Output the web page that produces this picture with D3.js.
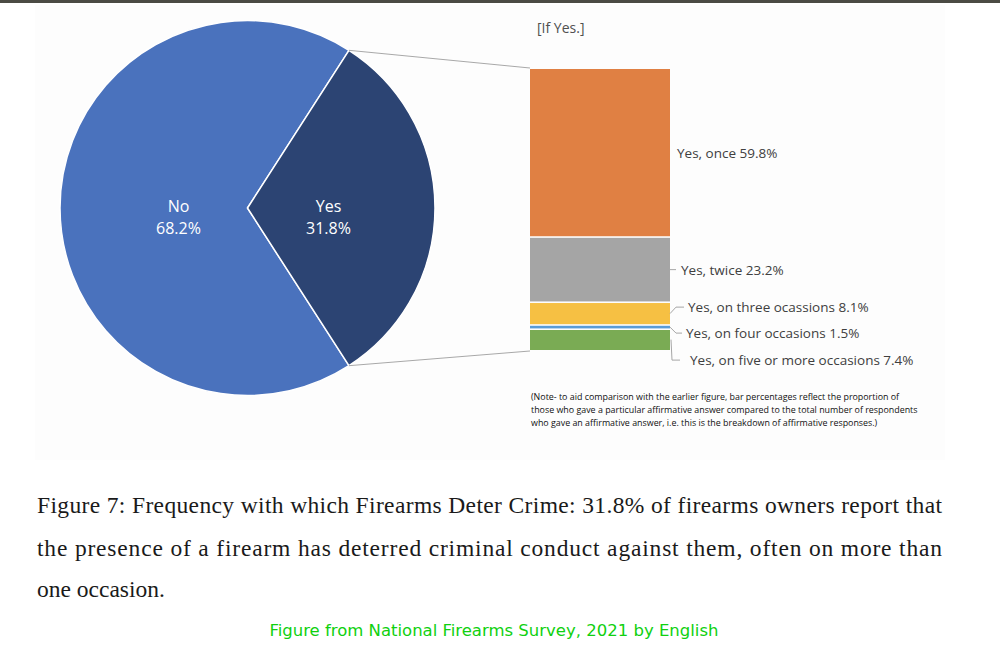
<!DOCTYPE html>
<html>
<head>
<meta charset="utf-8">
<script src="https://cdn.jsdelivr.net/npm/d3@7"></script>
<style>
  body { margin: 0; background: #fff; }
  svg { display: block; }
</style>
</head>
<body>
<svg id="mysvg" width="1000" height="650"></svg>
<script>
// pie data
var pieLabels = ["No", "Yes"];
var pieValues = [68.2, 31.8];

// breakdown of the "Yes" answers
var barLabels = ["Yes, once", "Yes, twice", "Yes, on three ocassions", "Yes, on four occasions", "Yes, on five or more occasions"];
var barValues = [59.8, 23.2, 8.1, 1.5, 7.4];

var noteLines = [
  "(Note- to aid comparison with the earlier figure, bar percentages reflect the proportion of",
  "those who gave a particular affirmative answer compared to the total number of respondents",
  "who gave an affirmative answer, i.e. this is the breakdown of affirmative responses.)"
];

var captionLines = [
  "Figure 7: Frequency with which Firearms Deter Crime: 31.8% of firearms owners report that",
  "the presence of a firearm has deterred criminal conduct against them, often on more than",
  "one occasion."
];
var sourceText = "Figure from National Firearms Survey, 2021 by English";

var svg = d3.select("#mysvg");

// dark strip on top of the page
svg.append("rect").attr("x", 0).attr("y", 0).attr("width", 1000).attr("height", 3).attr("fill", "#4b4b44");
svg.append("rect").attr("x", 35).attr("y", 5).attr("width", 910).attr("height", 455).attr("fill", "#fdfdfd");

// ---- pie ----
var cx = 247.5, cy = 208, r = 187.5;
var pieColors = ["#4a72bd", "#2c4473"];
var total = d3.sum(pieValues);
var yesFrac = pieValues[1] / total;
// Yes slice centred on the right-hand side
var start = Math.PI / 2 + yesFrac * Math.PI;

var pie = d3.pie().sort(null).startAngle(start).endAngle(start + 2 * Math.PI);
var arcs = pie(pieValues);
var arc = d3.arc().innerRadius(0).outerRadius(r);

var gp = svg.append("g").attr("transform", "translate(" + cx + "," + cy + ")");
gp.selectAll("path")
  .data(arcs)
  .enter().append("path")
    .attr("d", arc)
    .attr("fill", function(d, i) { return pieColors[i]; })
    .attr("stroke", "#fff")
    .attr("stroke-width", 1.5)
    .attr("stroke-linejoin", "round");

var lbl = gp.selectAll(".plabel")
  .data(arcs)
  .enter().append("text")
    .attr("class", "plabel")
    .attr("text-anchor", "middle")
    .attr("font-family", "Open Sans, sans-serif")
    .attr("font-size", "16px")
    .attr("fill", "#fff")
    .attr("transform", function(d) {
      var a = (d.startAngle + d.endAngle) / 2;
      var x = Math.sin(a) * r * 0.4 + 6;
      var y = -Math.cos(a) * r * 0.4;
      return "translate(" + x + "," + y + ")";
    });
lbl.append("tspan").attr("x", 0).attr("y", 4).text(function(d, i) { return pieLabels[i]; });
lbl.append("tspan").attr("x", 0).attr("y", 26).text(function(d, i) { return pieValues[i].toFixed(1) + "%"; });

// ---- stacked bar ----
var bx0 = 530, bx1 = 670;
var y = d3.scaleLinear().domain([0, d3.sum(barValues)]).range([69, 350]);
var barColors = ["#e08043", "#a5a5a5", "#f6c043", "#5b9bd5", "#7aab54"];

var stack = [];
var acc = 0;
barValues.forEach(function(v, i) {
  stack.push({ label: barLabels[i], value: v, y0: acc, y1: acc + v });
  acc += v;
});

// connector lines from the pie to the bar
var yesArc = arcs[1];
var pTop = [cx + Math.sin(yesArc.startAngle) * r, cy - Math.cos(yesArc.startAngle) * r];
var pBot = [cx + Math.sin(yesArc.endAngle) * r, cy - Math.cos(yesArc.endAngle) * r];
svg.append("line").attr("x1", pTop[0]).attr("y1", pTop[1]).attr("x2", bx0).attr("y2", y(0) - 1)
  .attr("stroke", "#a8a8a8").attr("stroke-width", 1);
svg.append("line").attr("x1", pBot[0]).attr("y1", pBot[1]).attr("x2", bx0).attr("y2", y(acc) + 1)
  .attr("stroke", "#a8a8a8").attr("stroke-width", 1);

svg.selectAll(".seg")
  .data(stack)
  .enter().append("rect")
    .attr("class", "seg")
    .attr("x", bx0)
    .attr("width", bx1 - bx0)
    .attr("y", function(d, i) { return y(d.y0) + (i > 0 ? 0.8 : 0); })
    .attr("height", function(d, i) { return y(d.y1) - y(d.y0) - (i > 0 ? 0.8 : 0) - (i < stack.length - 1 ? 0.8 : 0); })
    .attr("fill", function(d, i) { return barColors[i]; });

// label placement: shift from segment middle and distance from bar edge
var labelDy = [0, 0, -6.5, 6, 20.5];
var labelDx = [7, 11, 18, 16, 20];

svg.selectAll(".leader")
  .data(stack)
  .enter().append("path")
    .attr("class", "leader")
    .attr("fill", "none")
    .attr("stroke", "#a6a6a6")
    .attr("stroke-width", 1)
    .attr("d", function(d, i) {
      var my = (y(d.y0) + y(d.y1)) / 2;
      var ly = my + labelDy[i];
      if (i === 0) return null;
      if (i === 1) return "M" + bx1 + "," + ly + "H" + (bx1 + labelDx[i] - 5);
      if (i === 4) return "M" + (bx1 + 1) + "," + my + "L" + (bx1 + 2) + "," + ly + "H" + (bx1 + labelDx[i] - 10);
      return "M" + bx1 + "," + my + "L" + (bx1 + 6) + "," + ly + "H" + (bx1 + labelDx[i] - 4);
    });

svg.selectAll(".blabel")
  .data(stack)
  .enter().append("text")
    .attr("class", "blabel")
    .attr("x", function(d, i) { return bx1 + labelDx[i]; })
    .attr("y", function(d, i) { return (y(d.y0) + y(d.y1)) / 2 + labelDy[i] + 5; })
    .attr("font-family", "Open Sans, sans-serif")
    .attr("font-size", "13.5px")
    .attr("fill", "#404040")
    .text(function(d) { return d.label + " " + d.value.toFixed(1) + "%"; });

svg.append("text")
  .attr("x", 537).attr("y", 33)
  .attr("font-family", "Open Sans, sans-serif")
  .attr("font-size", "14px")
  .attr("fill", "#505050")
  .text("[If Yes.]");

svg.selectAll(".note")
  .data(noteLines)
  .enter().append("text")
    .attr("class", "note")
    .attr("x", 531)
    .attr("y", function(d, i) { return 400 + i * 13; })
    .attr("font-family", "Open Sans, sans-serif")
    .attr("font-size", "8.9px")
    .attr("fill", "#111")
    .text(function(d) { return d; });

// ---- caption ----
var capY = [513, 556, 597];
svg.selectAll(".cap")
  .data(captionLines)
  .enter().append("text")
    .attr("class", "cap")
    .attr("x", 37)
    .attr("y", function(d, i) { return capY[i]; })
    .attr("font-family", "Liberation Serif, serif")
    .attr("font-size", "23.5px")
    .attr("fill", "#1a1a1a")
    .each(function(d, i) {
      if (i < 2) d3.select(this).attr("textLength", 905).attr("lengthAdjust", "spacing");
    })
    .text(function(d) { return d; });

svg.append("text")
  .attr("x", 494).attr("y", 636)
  .attr("text-anchor", "middle")
  .attr("font-family", "DejaVu Sans Condensed, DejaVu Sans, sans-serif")
  .attr("font-size", "15px")
  .attr("fill", "#10d010")
  .attr("textLength", 449)
  .attr("lengthAdjust", "spacingAndGlyphs")
  .text(sourceText);
</script>
</body>
</html>
